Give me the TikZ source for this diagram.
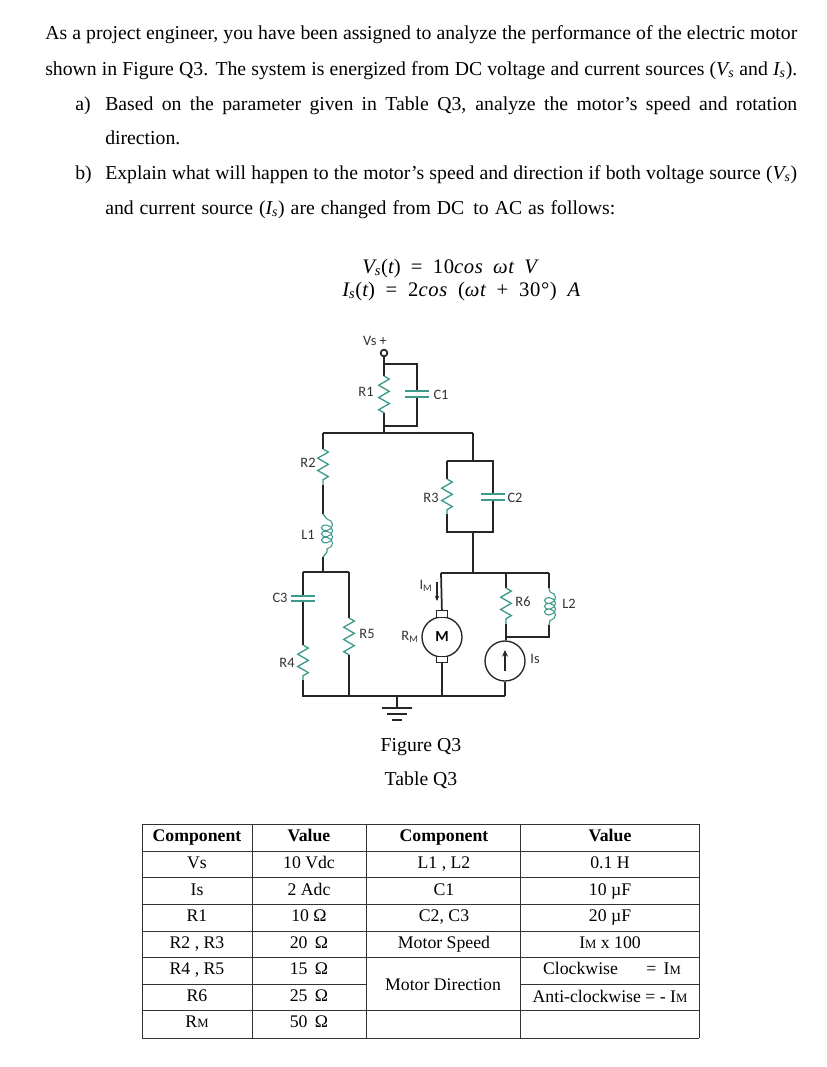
\documentclass[tikz,border=0pt]{standalone}
\usepackage{fontspec}
\setmainfont{Liberation Serif}
\newfontfamily\labelfont{Carlito}
\newfontfamily\eqfont[LetterSpace=3]{Liberation Serif}
\usetikzlibrary{decorations.pathmorphing,arrows.meta}
\definecolor{compteal}{HTML}{3E9A8C}
\newcommand{\subM}{{\fontsize{9.5}{9.5}\selectfont M}}
\tikzstyle{bodyline}=[anchor=base west,inner sep=0pt,font=\fontsize{14.8}{16}\selectfont]
\tikzstyle{formula}=[anchor=base west,inner sep=0pt,font=\eqfont\fontsize{15.5}{17}\selectfont\itshape]
\tikzstyle{caption}=[anchor=base,inner sep=0pt,font=\fontsize{14.8}{16}\selectfont]
\tikzstyle{cell}=[anchor=base,inner sep=0pt,font=\fontsize{13.3}{15}\selectfont]
\tikzstyle{headcell}=[cell,font=\fontsize{13.3}{15}\selectfont\bfseries]
\tikzstyle{rule}=[draw=black!80,line width=0.7pt]
\tikzstyle{wire}=[draw=black!85,line width=1.3pt]
\tikzstyle{thinwire}=[draw=black!85,line width=0.9pt]
\tikzstyle{res}=[draw=compteal,line width=1pt,decorate,decoration={zigzag,segment length=9.2pt,amplitude=4pt}]
\tikzstyle{ind}=[draw=compteal,line width=0.8pt,decorate,decoration={coil,aspect=0.75,segment length=4.6pt,amplitude=4.2pt}]
\tikzstyle{indlead}=[draw=compteal,line width=0.9pt]
\tikzstyle{plate}=[fill=compteal,inner sep=0pt,minimum width=18.5pt,minimum height=1.2pt]
\tikzstyle{complabel}=[inner sep=0pt,font=\labelfont\fontsize{10.8}{12}\selectfont,text=black!80]
\tikzstyle{brush}=[draw=black!85,fill=white,line width=0.8pt,inner sep=0pt,minimum width=8pt,minimum height=4.8pt]
\tikzstyle{round}=[draw=black!85,fill=white,circle,line width=1pt,inner sep=0pt,minimum size=30pt]

\begin{document}
\begin{tikzpicture}[x=0.75pt,y=-0.75pt]
  \useasboundingbox (0,0) rectangle (826,1067);

  % question text
  \node[bodyline] (l1) at (45,39) {\hbox to 564pt{As a project engineer, you have been assigned to analyze the performance of the electric motor}};
  \node[bodyline] (l2) at (45,75) {\hbox to 564pt{shown in Figure Q3. The system is energized from DC voltage and current sources (\textit{V\textsubscript{s}} and \textit{I\textsubscript{s}}).}};
  \node[bodyline] (l3a) at (75,110) {a)};
  \node[bodyline] (l3) at (105,110) {\hbox to 519pt{Based on the parameter given in Table Q3, analyze the motor's speed and rotation}};
  \node[bodyline] (l4) at (105,144) {direction.};
  \node[bodyline] (l5a) at (75,179) {b)};
  \node[bodyline] (l5) at (105,179) {\hbox to 519pt{Explain what will happen to the motor's speed and direction if both voltage source (\textit{V\textsubscript{s}})}};
  \node[bodyline] (l6) at (105,214) {\hbox to 382.5pt{and current source (\textit{I\textsubscript{s}}) are changed from DC\, to AC as follows:}};

  \node[formula] (eqv) at (362,273) {\hbox to 131pt{V\textsubscript{s}{\upshape(}t{\upshape)} {\upshape=} {\upshape10}cos ωt V}};
  \node[formula] (eqi) at (342,296) {\hbox to 178.5pt{I\textsubscript{s}{\upshape(}t{\upshape)} {\upshape=} {\upshape2}cos {\upshape(}ωt {\upshape+} {\upshape30°)} A}};

  % top branch
  \node[draw=black!85,fill=white,circle,line width=1.3pt,inner sep=0pt,minimum size=5pt] (vsterm) at (384,353) {};
  \coordinate (r1top) at (384,376);
  \coordinate (r1bot) at (384,413);
  \coordinate (topjoin) at (384,364);
  \coordinate (botjoin) at (384,426);
  \coordinate (topbus) at (384,433);
  \coordinate (c1ne) at (417,364);
  \coordinate (c1se) at (417,426);
  \node[plate] (c1a) at (417,391) {};
  \node[plate] (c1b) at (417,397) {};
  \draw[thinwire] (vsterm) -- (r1top);
  \draw[wire] (r1bot) -- (topbus);
  \draw[thinwire] (topjoin) -- (c1ne) -- (c1a);
  \draw[thinwire] (botjoin) -- (c1se) -- (c1b);
  \draw[res] (r1top) -- (r1bot);
  \node[complabel] (vslabel) at (375,341) {Vs +};
  \node[complabel] (r1label) at (366,392) {R1};
  \node[complabel] (c1label) at (441,395) {C1};

  % left branch
  \coordinate (busl) at (323,433);
  \coordinate (busr) at (473,433);
  \coordinate (r2top) at (323,449);
  \coordinate (r2bot) at (323,485);
  \coordinate (l1lead) at (323,514);
  \coordinate (l1top) at (327,519);
  \coordinate (l1bot) at (327,552);
  \coordinate (l1tail) at (323,557);
  \coordinate (leftdrop) at (323,572);
  \coordinate (boxl) at (303,572);
  \coordinate (boxr) at (349,572);
  \draw[wire] (busl) -- (busr);
  \draw[thinwire] (busl) -- (r2top);
  \draw[thinwire] (r2bot) -- (l1lead);
  \draw[indlead] (l1lead) -- (l1top);
  \draw[indlead] (l1bot) -- (l1tail);
  \draw[wire] (l1tail) -- (leftdrop);
  \draw[wire] (boxl) -- (boxr);
  \draw[res] (r2top) -- (r2bot);
  \draw[ind] (l1top) -- (l1bot);
  \node[complabel] (r2label) at (308,463) {R2};
  \node[complabel] (l1label) at (308,535) {L1};

  \node[plate] (c3a) at (303,596) {};
  \node[plate] (c3b) at (303,601) {};
  \coordinate (r4top) at (303,645);
  \coordinate (r4bot) at (303,680);
  \coordinate (r5top) at (349,618);
  \coordinate (r5bot) at (349,655);
  \coordinate (gndl) at (303,696);
  \coordinate (gndr5) at (349,696);
  \coordinate (gndr) at (505,696);
  \draw[thinwire] (boxl) -- (c3a);
  \draw[thinwire] (c3b) -- (r4top);
  \draw[wire] (boxr) -- (r5top);
  \draw[res] (r4top) -- (r4bot);
  \draw[res] (r5top) -- (r5bot);
  \draw[wire] (r4bot) -- (gndl) -- (gndr);
  \draw[wire] (r5bot) -- (gndr5);
  \node[complabel] (c3label) at (280,598) {C3};
  \node[complabel] (r4label) at (287,663) {R4};
  \node[complabel] (r5label) at (367,634) {R5};

  % ground
  \coordinate (gndtap) at (397,696);
  \node[fill=black!85,inner sep=0pt,minimum width=22pt,minimum height=1.2pt] (gnda) at (397,708) {};
  \node[fill=black!85,inner sep=0pt,minimum width=15pt,minimum height=1.2pt] (gndb) at (397,714) {};
  \node[fill=black!85,inner sep=0pt,minimum width=8pt,minimum height=1.2pt] (gndc) at (397,720) {};
  \draw[thinwire] (gndtap) -- (gnda);

  % middle branch
  \coordinate (dropa) at (473,461);
  \coordinate (r3ne) at (447,461);
  \coordinate (c2ne) at (493,461);
  \coordinate (r3top) at (447,479);
  \coordinate (r3bot) at (447,514);
  \coordinate (r3se) at (447,532);
  \coordinate (c2se) at (493,532);
  \coordinate (dropb) at (473,532);
  \coordinate (dropc) at (473,573);
  \node[plate] (c2a) at (493,494) {};
  \node[plate] (c2b) at (493,500) {};
  \draw[wire] (busr) -- (dropa);
  \draw[wire] (r3ne) -- (c2ne) -- (c2a);
  \draw[wire] (c2b) -- (c2se) -- (r3se) -- (r3bot);
  \draw[wire] (r3ne) -- (r3top);
  \draw[res] (r3top) -- (r3bot);
  \draw[wire] (dropb) -- (dropc);
  \node[complabel] (r3label) at (431,498) {R3};
  \node[complabel] (c2label) at (515,498) {C2};

  % motor
  \coordinate (motl) at (441,573);
  \coordinate (r6join) at (506,573);
  \coordinate (l2ne) at (549,573);
  \node[round] (motor) at (442,637) {\labelfont\bfseries\fontsize{11.5}{13}\selectfont M};
  \node[brush] (brushtop) at (442,614) {};
  \node[brush] (brushbot) at (442,659.5) {};
  \coordinate (motgnd) at (442,696);
  \draw[wire] (motl) -- (l2ne);
  \draw[wire] (motl) -- (brushtop);
  \draw[wire] (brushbot) -- (motgnd);
  \coordinate (imtop) at (437,582);
  \coordinate (imbot) at (437,601);
  \draw[thinwire,-{Stealth[length=4pt,width=3.5pt]}] (imtop) -- (imbot);
  \node[complabel] (imlabel) at (426,586) {I\textsubscript{M}};
  \node[complabel] (rmlabel) at (410,637) {R\textsubscript{M}};

  % right branch
  \coordinate (r6top) at (506,588);
  \coordinate (r6bot) at (506,624);
  \coordinate (r6se) at (506,637);
  \coordinate (l2top) at (550,592);
  \coordinate (l2bot) at (550,621);
  \coordinate (l2se) at (549,637);
  \coordinate (l2hook) at (549,588);
  \coordinate (l2tail) at (549,625);
  \node[round] (srcI) at (505,661) {};
  \coordinate (srctail) at (505,671);
  \coordinate (srchead) at (505,650);
  \draw[wire] (r6join) -- (r6top);
  \draw[thinwire] (r6bot) -- (r6se);
  \draw[res] (r6top) -- (r6bot);
  \draw[thinwire] (l2ne) -- (l2hook);
  \draw[indlead] (l2hook) -- (l2top);
  \draw[ind,decoration={segment length=4.3pt}] (l2top) -- (l2bot);
  \draw[indlead] (l2bot) -- (l2tail);
  \draw[wire] (l2tail) -- (l2se) -- (r6se) -- (srcI);
  \draw[wire] (srcI) -- (gndr);
  \draw[line width=1.4pt,draw=black!85,-{Stealth[length=5pt,width=4.5pt]}] (srctail) -- (srchead);
  \node[complabel] (r6label) at (523,602) {R6};
  \node[complabel] (l2label) at (569,604) {L2};
  \node[complabel] (islabel) at (535,659) {Is};

  \node[caption] (figcap) at (421,751) {Figure Q3};
  \node[caption] (tabcap) at (421,785) {Table Q3};

  % table rules
  \foreach \y in {824,851,877,904,931,957,1010,1038}
    \draw[rule] (142,\y) -- (699,\y);
  \draw[rule] (142,984) -- (366,984);
  \draw[rule] (520,984) -- (699,984);
  \foreach \x in {142,252,366,520,699}
    \draw[rule] (\x,824) -- (\x,1038);

  % table texts
  \node[headcell] (hd1) at (197,841) {Component};
  \node[headcell] (hd2) at (309,841) {Value};
  \node[headcell] (hd3) at (444,841) {Component};
  \node[headcell] (hd4) at (610,841) {Value};
  \foreach \i/\y/\cola/\colb in {1/868/Vs/10 Vdc,2/895/Is/2 Adc,3/921/R1/10 Ω,4/948/{R2 , R3}/20\, Ω,5/974/{R4 , R5}/15\, Ω,6/1001/R6/25\, Ω,7/1027/R\subM/50\, Ω}{
    \node[cell] (na\i) at (197,\y) {\cola};
    \node[cell] (va\i) at (309,\y) {\colb};
  }
  \node[cell] (nb1) at (444,868) {L1 , L2};
  \node[cell] (vb1) at (610,868) {0.1 H};
  \node[cell] (nb2) at (444,895) {C1};
  \node[cell] (vb2) at (610,895) {10 µF};
  \node[cell] (nb3) at (444,921) {C2, C3};
  \node[cell] (vb3) at (610,921) {20 µF};
  \node[cell] (nb4) at (444,948) {Motor Speed};
  \node[cell] (vb4) at (610,948) {I\subM{} x 100};
  \node[cell] (nb5) at (443,990) {Motor Direction};
  \node[cell] (vb5) at (612,974) {Clockwise\hspace{1.6em}=\, I\subM};
  \node[cell] (vb6) at (610,1002) {Anti-clockwise = - I\subM};
\end{tikzpicture}
\end{document}
